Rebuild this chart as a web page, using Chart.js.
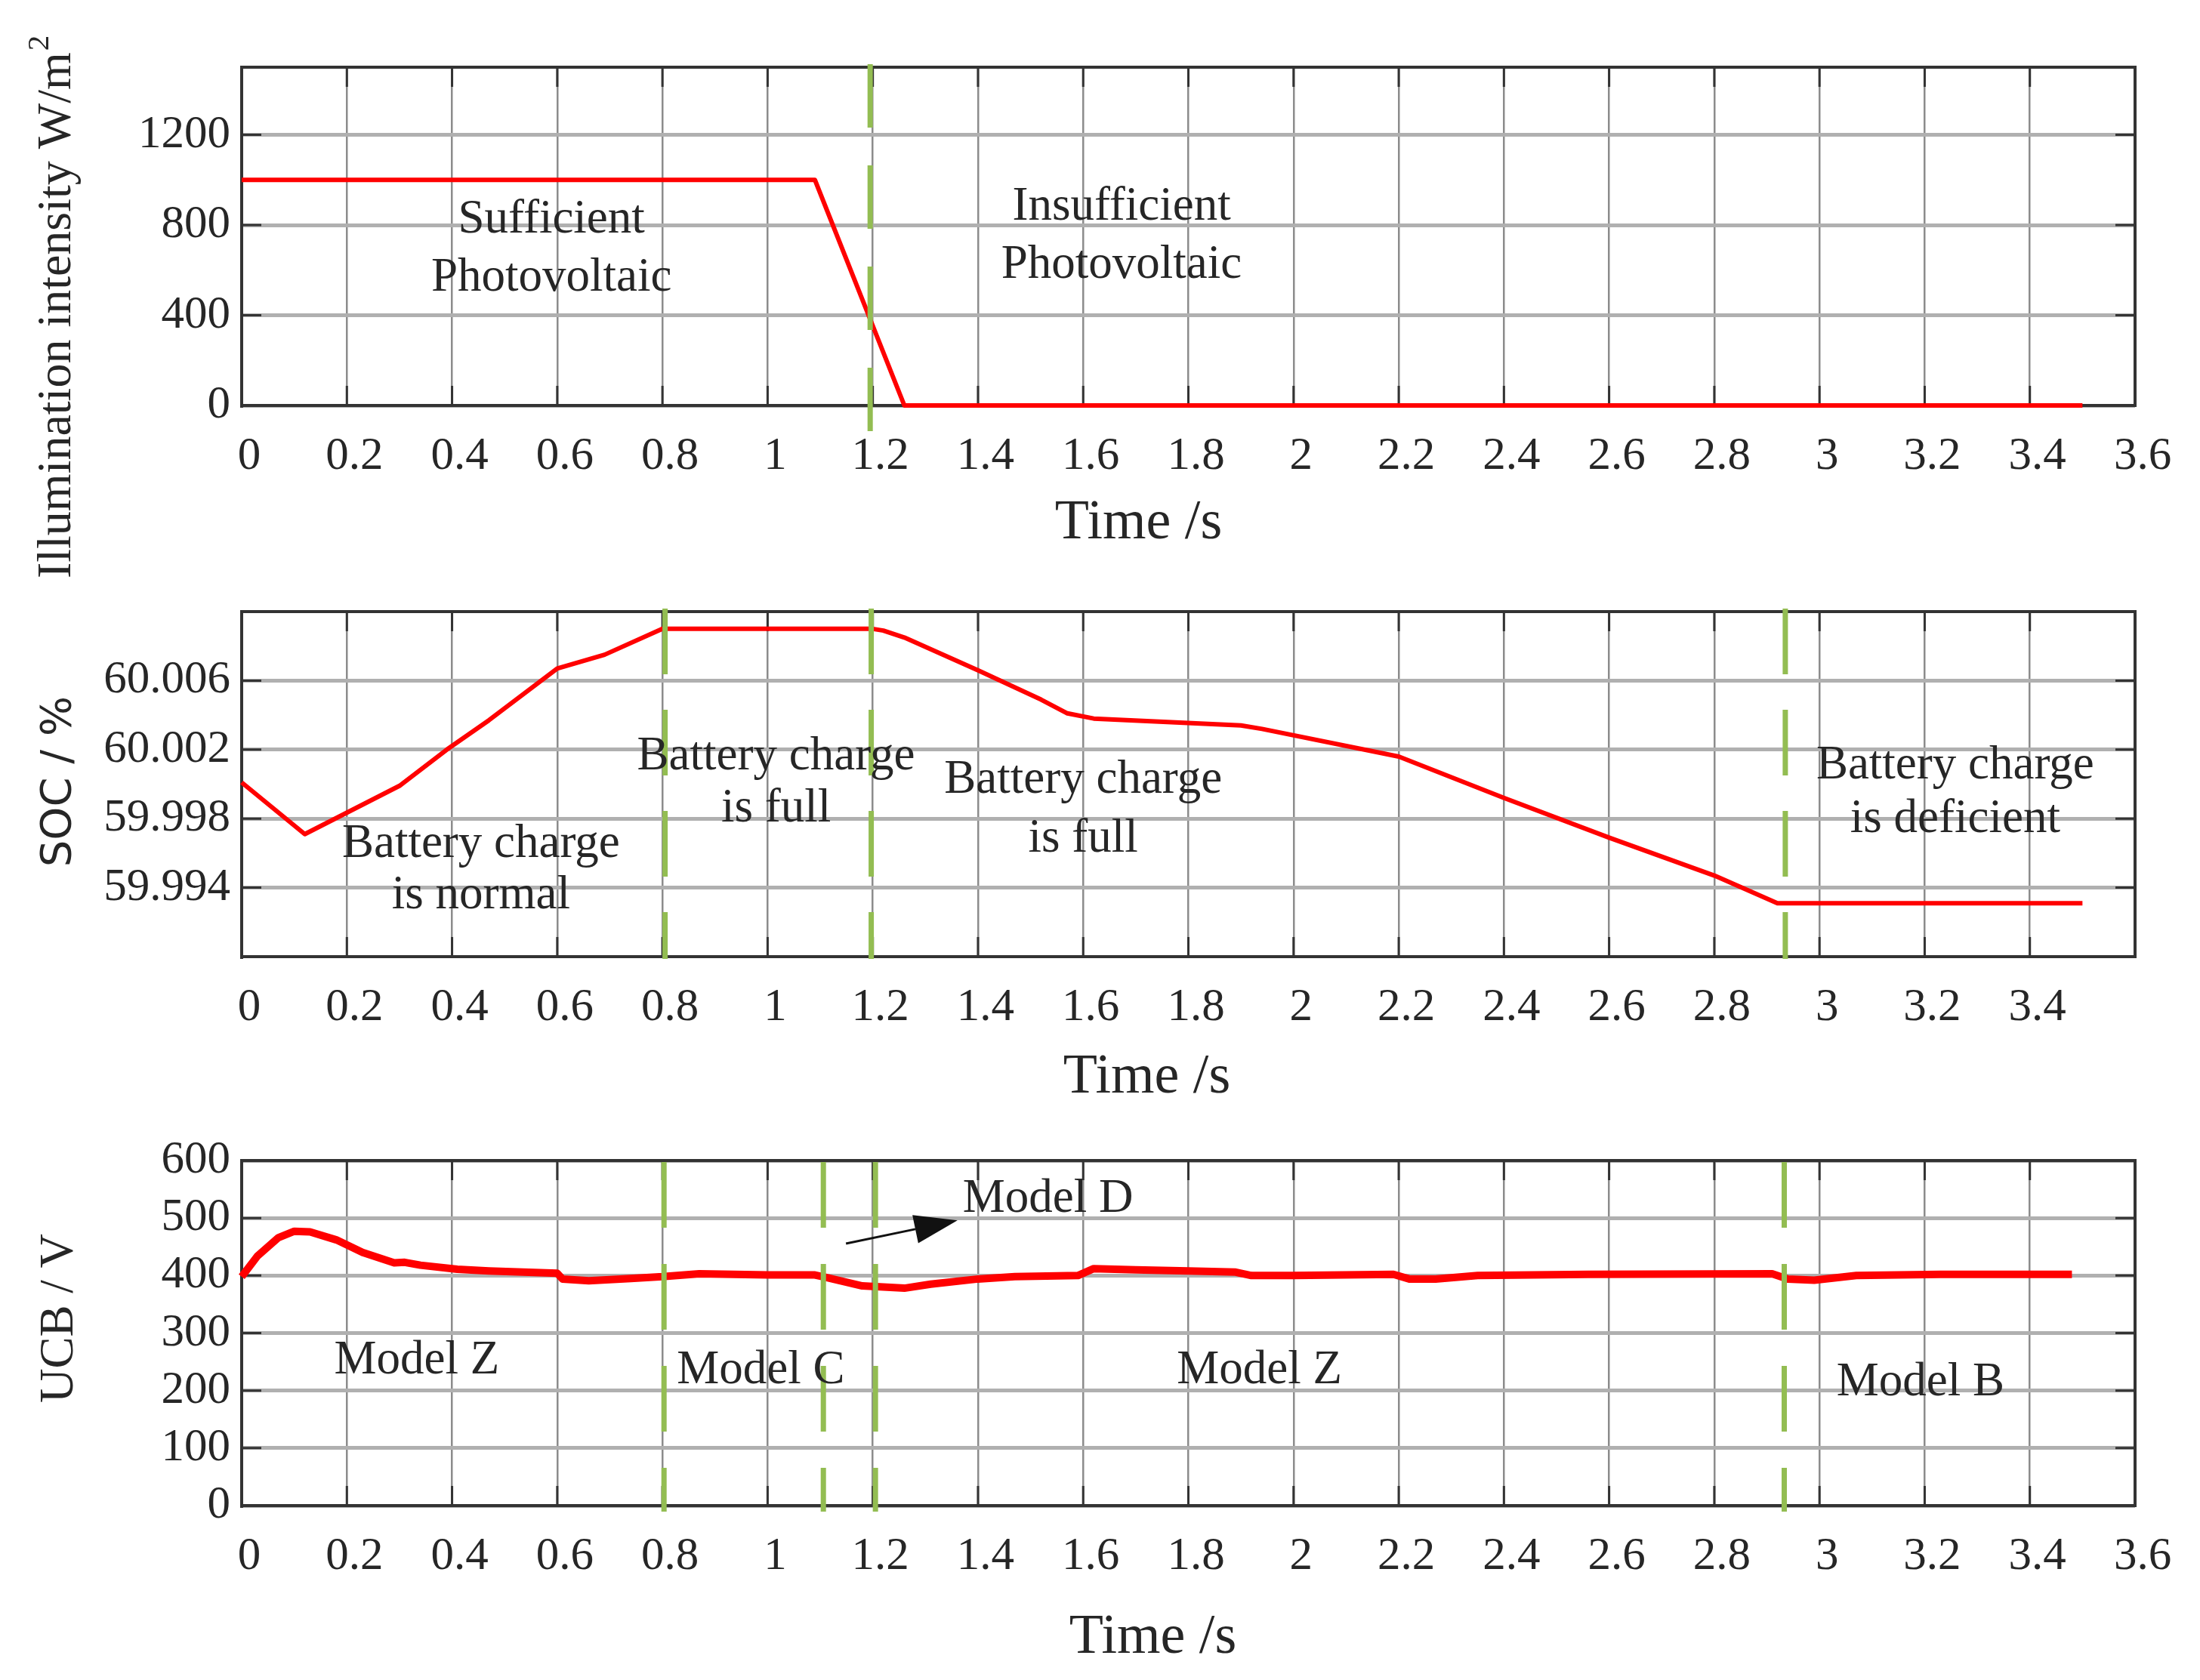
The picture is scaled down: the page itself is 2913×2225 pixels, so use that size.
<!DOCTYPE html>
<html><head><meta charset="utf-8">
<script src="https://cdn.jsdelivr.net/npm/chart.js@4.4.1/dist/chart.umd.min.js"></script>
<style>
html,body{margin:0;padding:0;background:#fff;}
#wrap{position:relative;width:2913px;height:2225px;background:#fff;overflow:hidden;}
canvas{position:absolute;left:0;}
</style></head><body>
<div id="wrap">
<canvas id="c1" width="2913" height="780" style="top:0px;width:2913px;height:780px"></canvas>
<canvas id="c2" width="2913" height="735" style="top:735px;width:2913px;height:735px"></canvas>
<canvas id="c3" width="2913" height="755" style="top:1470px;width:2913px;height:755px"></canvas>
</div>
<script>
// ---------- data ----------
const timeTicks = [0,0.2,0.4,0.6,0.8,1,1.2,1.4,1.6,1.8,2,2.2,2.4,2.6,2.8,3,3.2,3.4,3.6];
const timeLabels = ['0','0.2','0.4','0.6','0.8','1','1.2','1.4','1.6','1.8','2','2.2','2.4','2.6','2.8','3','3.2','3.4','3.6'];
const timeLabelsSOC = ['0','0.2','0.4','0.6','0.8','1','1.2','1.4','1.6','1.8','2','2.2','2.4','2.6','2.8','3','3.2','3.4',''];

const illumTicks = [0,400,800,1200];
const illumTickLabels = ['0','400','800','1200'];
const socTicks = [59.994,59.998,60.002,60.006];
const socTickLabels = ['59.994','59.998','60.002','60.006'];
const ucbTicks = [0,100,200,300,400,500,600];
const ucbTickLabels = ['0','100','200','300','400','500','600'];

const illumT = [0, 1.09, 1.26, 3.5];
const illumV = [1000, 1000, 0, 0];

const socT = [0, 0.12, 0.30, 0.39, 0.47, 0.60, 0.69, 0.80, 1.20, 1.22, 1.26, 1.40, 1.52, 1.57, 1.62, 1.90, 1.94, 2.20, 2.40, 2.60, 2.80, 2.92, 3.50];
const socV = [60.0001, 59.9971, 59.9999, 60.0020, 60.0037, 60.0067, 60.0075, 60.0090, 60.0090, 60.0089, 60.0085, 60.0066, 60.0049, 60.0041, 60.0038, 60.0034, 60.0032, 60.0016, 59.9992, 59.9969, 59.9947, 59.9931, 59.9931];

const ucbT = [0, 0.03, 0.07, 0.10, 0.13, 0.18, 0.23, 0.29, 0.31, 0.34, 0.41, 0.47, 0.60, 0.61, 0.66, 0.74, 0.80, 0.87, 1.00, 1.09, 1.11, 1.18, 1.26, 1.31, 1.40, 1.47, 1.59, 1.62, 1.70, 1.80, 1.89, 1.92, 2.00, 2.19, 2.22, 2.27, 2.35, 2.56, 2.91, 2.94, 2.99, 3.07, 3.23, 3.48];
const ucbV = [398, 434, 466, 477, 476, 462, 440, 422, 423, 418, 411, 408, 404, 394, 391, 395, 398, 403, 401, 401, 397, 382, 378, 385, 394, 398, 400, 412, 410, 408, 406, 400, 400, 402, 394, 394, 400, 402, 403, 394, 392, 400, 402, 402];

const illumSwitch = [1.195];
const socSwitch = [0.805, 1.197, 2.935];
const ucbSwitch = [0.803, 1.106, 1.205, 2.933];

const illumNotes = [
  {text:'Sufficient', t:0.589, v:822}, {text:'Photovoltaic', t:0.589, v:565},
  {text:'Insufficient', t:1.673, v:879}, {text:'Photovoltaic', t:1.673, v:622}
];
const socNotes = [
  {text:'Battery charge', t:0.455, v:59.99651}, {text:'is normal', t:0.455, v:59.99353},
  {text:'Battery charge', t:1.016, v:60.00157}, {text:'is full', t:1.016, v:59.99857},
  {text:'Battery charge', t:1.600, v:60.00020}, {text:'is full', t:1.600, v:59.99682},
  {text:'Battery charge', t:3.258, v:60.00105}, {text:'is deficient', t:3.258, v:59.99796}
];
const ucbNotes = [
  {text:'Model Z', t:0.333, v:252}, {text:'Model C', t:0.987, v:234},
  {text:'Model Z', t:1.935, v:234}, {text:'Model B', t:3.192, v:213},
  {text:'Model D', t:1.371, v:533, align:'left'}
];
const ucbArrow = {t0:1.149, v0:455.6, t1:1.361, v1:496};

// ---------- styling / helpers ----------
const SERIF = 'Liberation Serif, Times New Roman, serif';
const TXT = '#262626';
const GREEN = '#93bd52';

const deco = {
  id:'deco',
  beforeDatasetsDraw(chart, args, o){
    const ctx = chart.ctx, a = chart.chartArea, xs = chart.scales.x, ys = chart.scales.y;
    ctx.save();
    ctx.strokeStyle = '#333'; ctx.lineWidth = 3;
    ctx.beginPath();
    xs.ticks.forEach(tk=>{
      const x = xs.getPixelForValue(tk.value);
      ctx.moveTo(x, a.bottom); ctx.lineTo(x, a.bottom-26);
      ctx.moveTo(x, a.top); ctx.lineTo(x, a.top+26);
    });
    ys.ticks.forEach(tk=>{
      const y = ys.getPixelForValue(tk.value);
      ctx.moveTo(a.left, y); ctx.lineTo(a.left+26, y);
      ctx.moveTo(a.right, y); ctx.lineTo(a.right-26, y);
    });
    ctx.stroke();
    ctx.lineWidth = 4; ctx.strokeStyle = '#333';
    ctx.strokeRect(a.left, a.top, a.right-a.left, a.bottom-a.top);
    ctx.restore();
  },
  afterDatasetsDraw(chart, args, o){
    const ctx = chart.ctx, a = chart.chartArea, xs = chart.scales.x;
    ctx.save();
    ctx.strokeStyle = GREEN; ctx.lineWidth = 7; ctx.lineCap = 'butt';
    ctx.setLineDash(o.dash);
    o.vlines.forEach(t=>{
      const x = xs.getPixelForValue(t);
      ctx.beginPath(); ctx.moveTo(x, a.top + o.vTop); ctx.lineTo(x, a.bottom + o.vBot); ctx.stroke();
    });
    ctx.restore();
  },
  afterDraw(chart, args, o){
    const ctx = chart.ctx, a = chart.chartArea, xs = chart.scales.x, ys = chart.scales.y;
    ctx.save();
    ctx.fillStyle = TXT;
    ctx.font = '63px ' + SERIF;
    ctx.textBaseline = 'middle';
    o.notes.forEach(n=>{
      ctx.textAlign = n.align || 'center';
      ctx.fillText(n.text, xs.getPixelForValue(n.t), ys.getPixelForValue(n.v));
    });
    if (o.arrow){
      const x0 = xs.getPixelForValue(o.arrow.t0), y0 = ys.getPixelForValue(o.arrow.v0);
      const x1 = xs.getPixelForValue(o.arrow.t1), y1 = ys.getPixelForValue(o.arrow.v1);
      const dx = x1-x0, dy = y1-y0, L = Math.hypot(dx,dy), ux = dx/L, uy = dy/L;
      const hl = 57, hw = 19;
      const bx = x1 - ux*hl, by = y1 - uy*hl;
      ctx.strokeStyle = '#111'; ctx.lineWidth = 3;
      ctx.beginPath(); ctx.moveTo(x0,y0); ctx.lineTo(bx,by); ctx.stroke();
      ctx.fillStyle = '#111';
      ctx.beginPath(); ctx.moveTo(x1,y1);
      ctx.lineTo(bx - uy*hw, by + ux*hw); ctx.lineTo(bx + uy*hw, by - ux*hw);
      ctx.closePath(); ctx.fill();
      ctx.fillStyle = TXT;
    }
    // x title
    ctx.font = '74px ' + SERIF;
    ctx.textAlign = 'center'; ctx.textBaseline = 'alphabetic';
    ctx.fillText(o.xTitle.text, (a.left+a.right)/2 + o.xTitle.dx, o.xTitle.base);
    // y title
    const yt = o.yTitle;
    ctx.translate(yt.x, yt.y);
    ctx.rotate(-Math.PI/2);
    ctx.font = yt.font;
    ctx.textBaseline = 'middle';
    ctx.textAlign = yt.sup ? 'left' : 'center';
    ctx.fillText(yt.text, 0, 0);
    if (yt.sup){
      const w = ctx.measureText(yt.text).width;
      ctx.font = '41px ' + SERIF;
      ctx.fillText(yt.sup, w + 2, -23);
    }
    ctx.restore();
  }
};

function xScale(labels, axisH){
  return {
    type:'linear', min:0, max:3.6, position:'bottom',
    afterBuildTicks: s => { s.ticks = timeTicks.map(v=>({value:v})); },
    afterFit: s => { s.height = axisH; },
    ticks:{ callback:(v,i)=>labels[i], font:{family:SERIF, size:61}, color:TXT,
            padding:31, labelOffset:10, maxRotation:0, minRotation:0, autoSkip:false },
    grid:{ color:'#8c8c8c', lineWidth:2.5, drawTicks:false },
    border:{ display:true, color:'#333', width:4 }
  };
}
function yScale(min, max, ticks, labels){
  return {
    type:'linear', min, max, position:'left',
    afterBuildTicks: s => { s.ticks = ticks.map(v=>({value:v})); },
    afterFit: s => { s.width = 320; },
    ticks:{ callback:(v,i)=>labels[i], font:{family:SERIF, size:61}, color:TXT, padding:15, autoSkip:false },
    grid:{ color:'#b0b0b0', lineWidth:5, drawTicks:false },
    border:{ display:true, color:'#333', width:4 }
  };
}
function makeChart(id, p){
  return new Chart(document.getElementById(id), {
    type:'line',
    data:{ datasets:[{
      data: p.t.map((x,i)=>({x, y:p.v[i]})),
      borderColor:'#ff0000', borderWidth:p.lw, pointRadius:0, tension:0, fill:false,
      borderJoinStyle:'round', borderCapStyle:'butt', clip:false
    }]},
    options:{
      responsive:false, animation:false, devicePixelRatio:1, events:[],
      layout:{ padding:{ top:p.padTop, right:86, bottom:0, left:0 } },
      scales:{ x:xScale(p.xLabels, p.axisH), y:yScale(p.ymin, p.ymax, p.yTicks, p.yLabels) },
      plugins:{ legend:{display:false}, tooltip:{enabled:false},
        deco:{ vlines:p.vlines, vTop:p.vTop, vBot:p.vBot, dash:p.dash, notes:p.notes, arrow:p.arrow,
               xTitle:p.xTitle, yTitle:p.yTitle } }
    },
    plugins:[deco]
  });
}

makeChart('c1', {
  t:illumT, v:illumV, lw:6, padTop:89, axisH:243, ymin:0, ymax:1500,
  yTicks:illumTicks, yLabels:illumTickLabels, xLabels:timeLabels,
  vlines:illumSwitch, vTop:-4, vBot:35, dash:[84,50], notes:illumNotes,
  xTitle:{text:'Time /s', dx:-66, base:713},
  yTitle:{text:'Illumination intensity W/m', sup:'2', x:76, y:766, font:'64px ' + SERIF}
});
makeChart('c2', {
  t:socT, v:socV, lw:6, padTop:75, axisH:203, ymin:59.990, ymax:60.010,
  yTicks:socTicks, yLabels:socTickLabels, xLabels:timeLabelsSOC,
  vlines:socSwitch, vTop:-4, vBot:3, dash:[87,47], notes:socNotes,
  xTitle:{text:'Time /s', dx:-55, base:712},
  yTitle:{text:'SOC / %', x:78, y:300, font:'56px DejaVu Sans, sans-serif'}
});
makeChart('c3', {
  t:ucbT, v:ucbV, lw:10, padTop:67, axisH:231, ymin:0, ymax:600,
  yTicks:ucbTicks, yLabels:ucbTickLabels, xLabels:timeLabels,
  vlines:ucbSwitch, vTop:2, vBot:8, dash:[87,48], notes:ucbNotes, arrow:ucbArrow,
  xTitle:{text:'Time /s', dx:-47, base:719},
  yTitle:{text:'UCB / V', x:79, y:276, font:'63px ' + SERIF}
});
</script>
</body></html>
